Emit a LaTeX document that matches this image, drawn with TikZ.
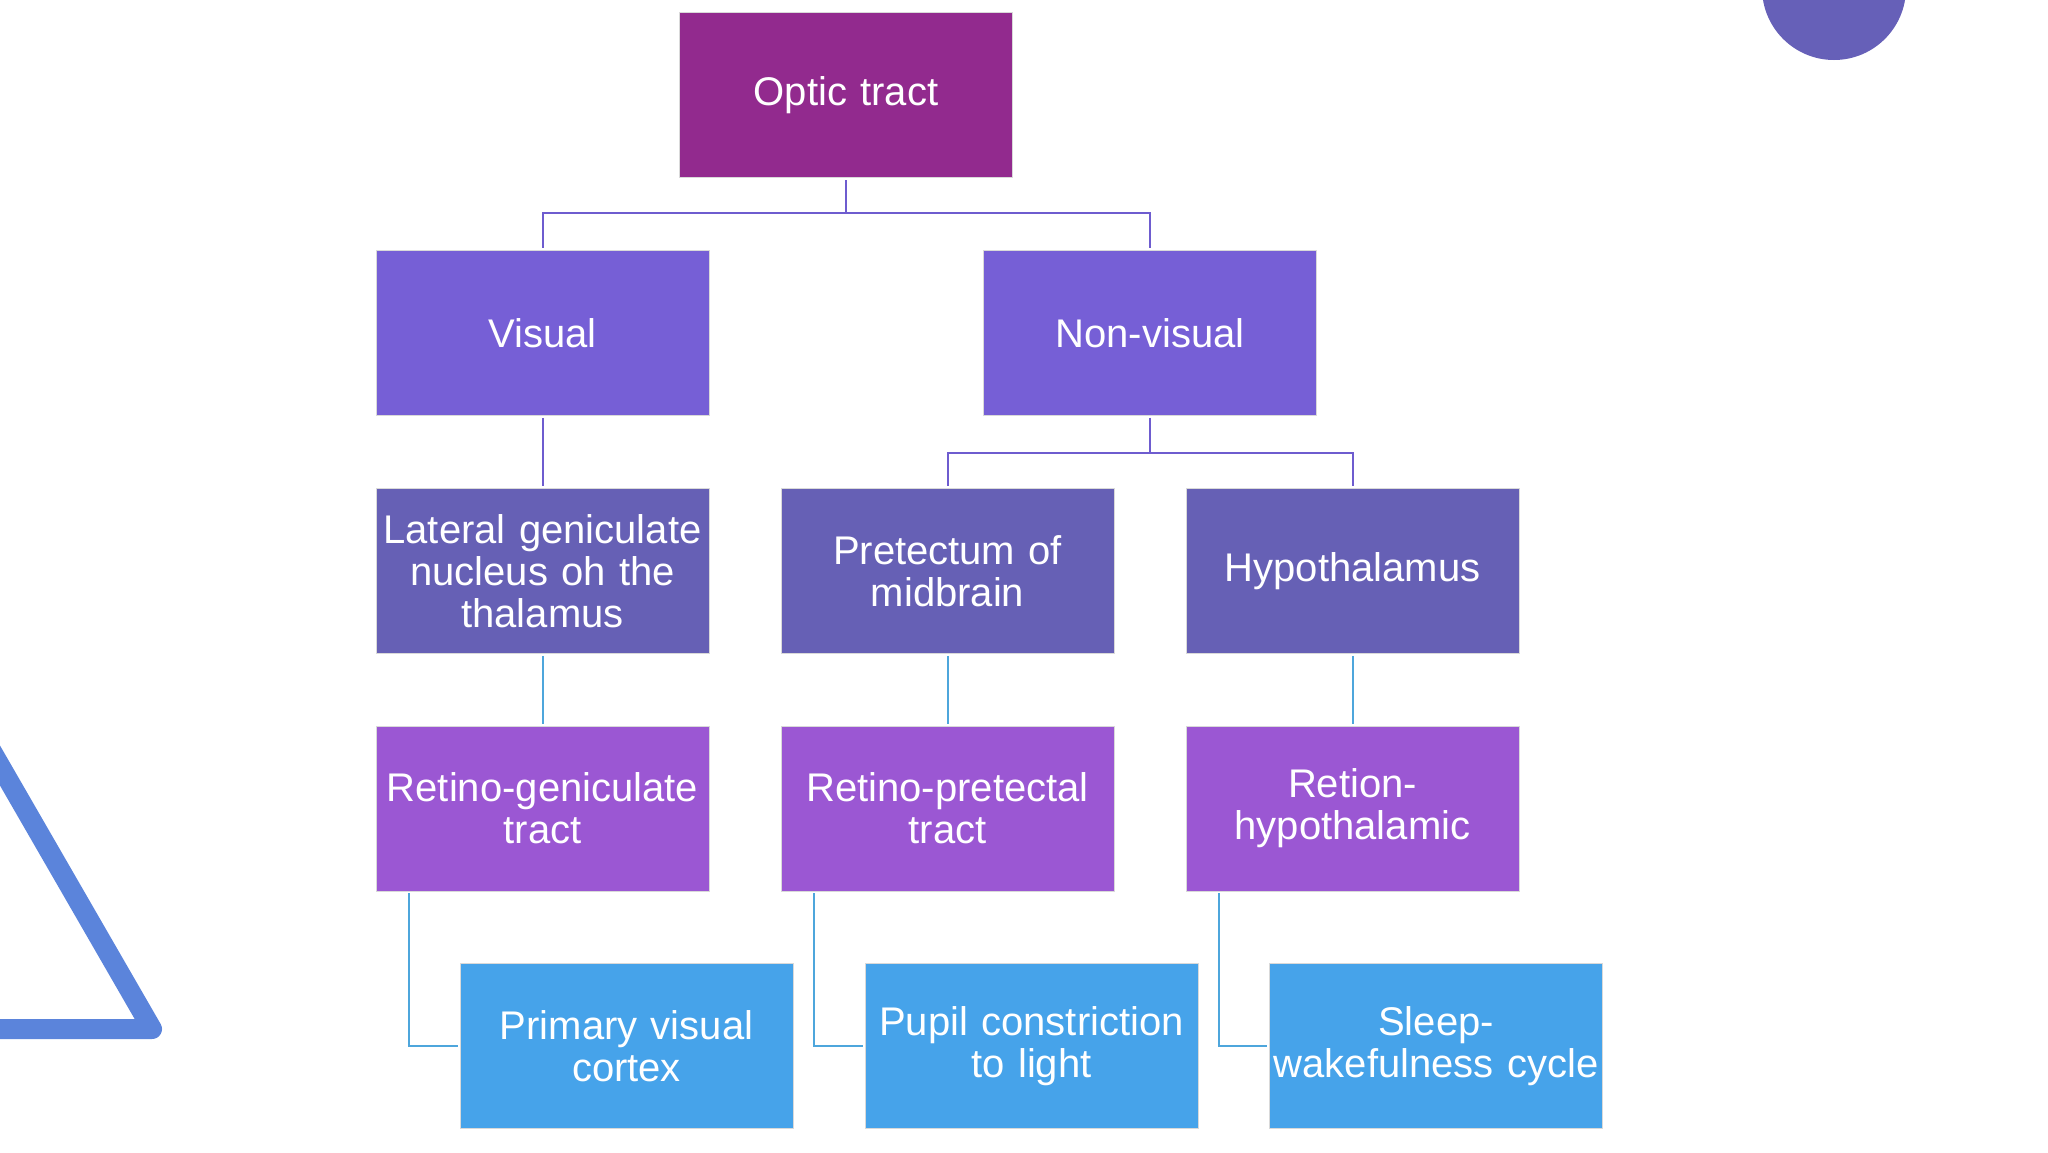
\documentclass[tikz,border=0pt]{standalone}
\usepackage{fontspec}
\setmainfont{Liberation Sans}
\definecolor{copt}{HTML}{922A8E}
\definecolor{cvis}{HTML}{765FD6}
\definecolor{crow3}{HTML}{6660B5}
\definecolor{crow4}{HTML}{9B57D3}
\definecolor{crow5}{HTML}{46A3EA}
\definecolor{clinep}{HTML}{6E5CCF}
\definecolor{clineb}{HTML}{4EA6DC}
\definecolor{ccirc}{HTML}{6660B8}
\definecolor{ctri}{HTML}{5B84DB}
\begin{document}
\begin{tikzpicture}[x=1pt,y=-1pt,
  box/.style={rectangle, minimum width=333pt, minimum height=165pt, inner sep=0pt,
    text width=333pt, align=center, text=white, draw=white!85!black, line width=0.8pt,
    font=\fontsize{40}{42}\selectfont},
  lp/.style={draw=clinep, line width=2pt},
  lb/.style={draw=clineb, line width=2pt}]
\useasboundingbox (0,0) rectangle (2048,1152);
\clip (0,0) rectangle (2048,1152);
\fill[white] (0,0) rectangle (2048,1152);
% decorations
\fill[ccirc] (1834,-12) circle (72);
\draw[ctri, line width=20pt, line join=round, line cap=round]
  (-200,1029) -- (152,1029) -- (-148,509);
% boxes
\node[box, fill=copt] (opt) at (846,95.3) {Optic tract};
\node[box, fill=cvis] (vis) at (542.5,333) {Visual};
\node[box, fill=cvis] (nonvis) at (1150,333) {Non-visual};
\node[box, fill=crow3] (lgn) at (542.5,571) {Lateral geniculate\\nucleus oh the\\thalamus};
\node[box, fill=crow3] (pre) at (947.5,571) {Pretectum of\\midbrain};
\node[box, fill=crow3] (hyp) at (1352.5,571) {Hypothalamus};
\node[box, fill=crow4] (rgt) at (542.5,808.5) {Retino-geniculate\\tract};
\node[box, fill=crow4] (rpt) at (947.5,808.5) {Retino-pretectal\\tract};
\node[box, fill=crow4] (rht) at (1352.5,808.5) {Retion-\\hypothalamic};
\node[box, fill=crow5] (pvc) at (626.5,1046) {Primary visual\\cortex};
\node[box, fill=crow5] (pcl) at (1031.5,1046) {Pupil constriction\\to light};
\node[box, fill=crow5] (swc) at (1436,1046) {Sleep-\\wakefulness cycle};
% connectors
\draw[lp] ([yshift=-2pt]opt.south) -- ++(0,33) -| ([yshift=2pt]vis.north);
\draw[lp] ([yshift=-2pt]opt.south) -- ++(0,33) -| ([yshift=2pt]nonvis.north);
\draw[lp] ([yshift=-2pt]vis.south) -- ([yshift=2pt]lgn.north);
\draw[lp] ([yshift=-2pt]nonvis.south) -- ++(0,35) -| ([yshift=2pt]pre.north);
\draw[lp] ([yshift=-2pt]nonvis.south) -- ++(0,35) -| ([yshift=2pt]hyp.north);
\draw[lb] ([yshift=-2pt]lgn.south) -- ([yshift=2pt]rgt.north);
\draw[lb] ([yshift=-2pt]pre.south) -- ([yshift=2pt]rpt.north);
\draw[lb] ([yshift=-2pt]hyp.south) -- ([yshift=2pt]rht.north);
\draw[lb] ([xshift=33pt,yshift=-2pt]rgt.south west) |- ([xshift=-2pt]pvc.west);
\draw[lb] ([xshift=33pt,yshift=-2pt]rpt.south west) |- ([xshift=-2pt]pcl.west);
\draw[lb] ([xshift=33pt,yshift=-2pt]rht.south west) |- ([xshift=-2pt]swc.west);
\end{tikzpicture}
\end{document}
